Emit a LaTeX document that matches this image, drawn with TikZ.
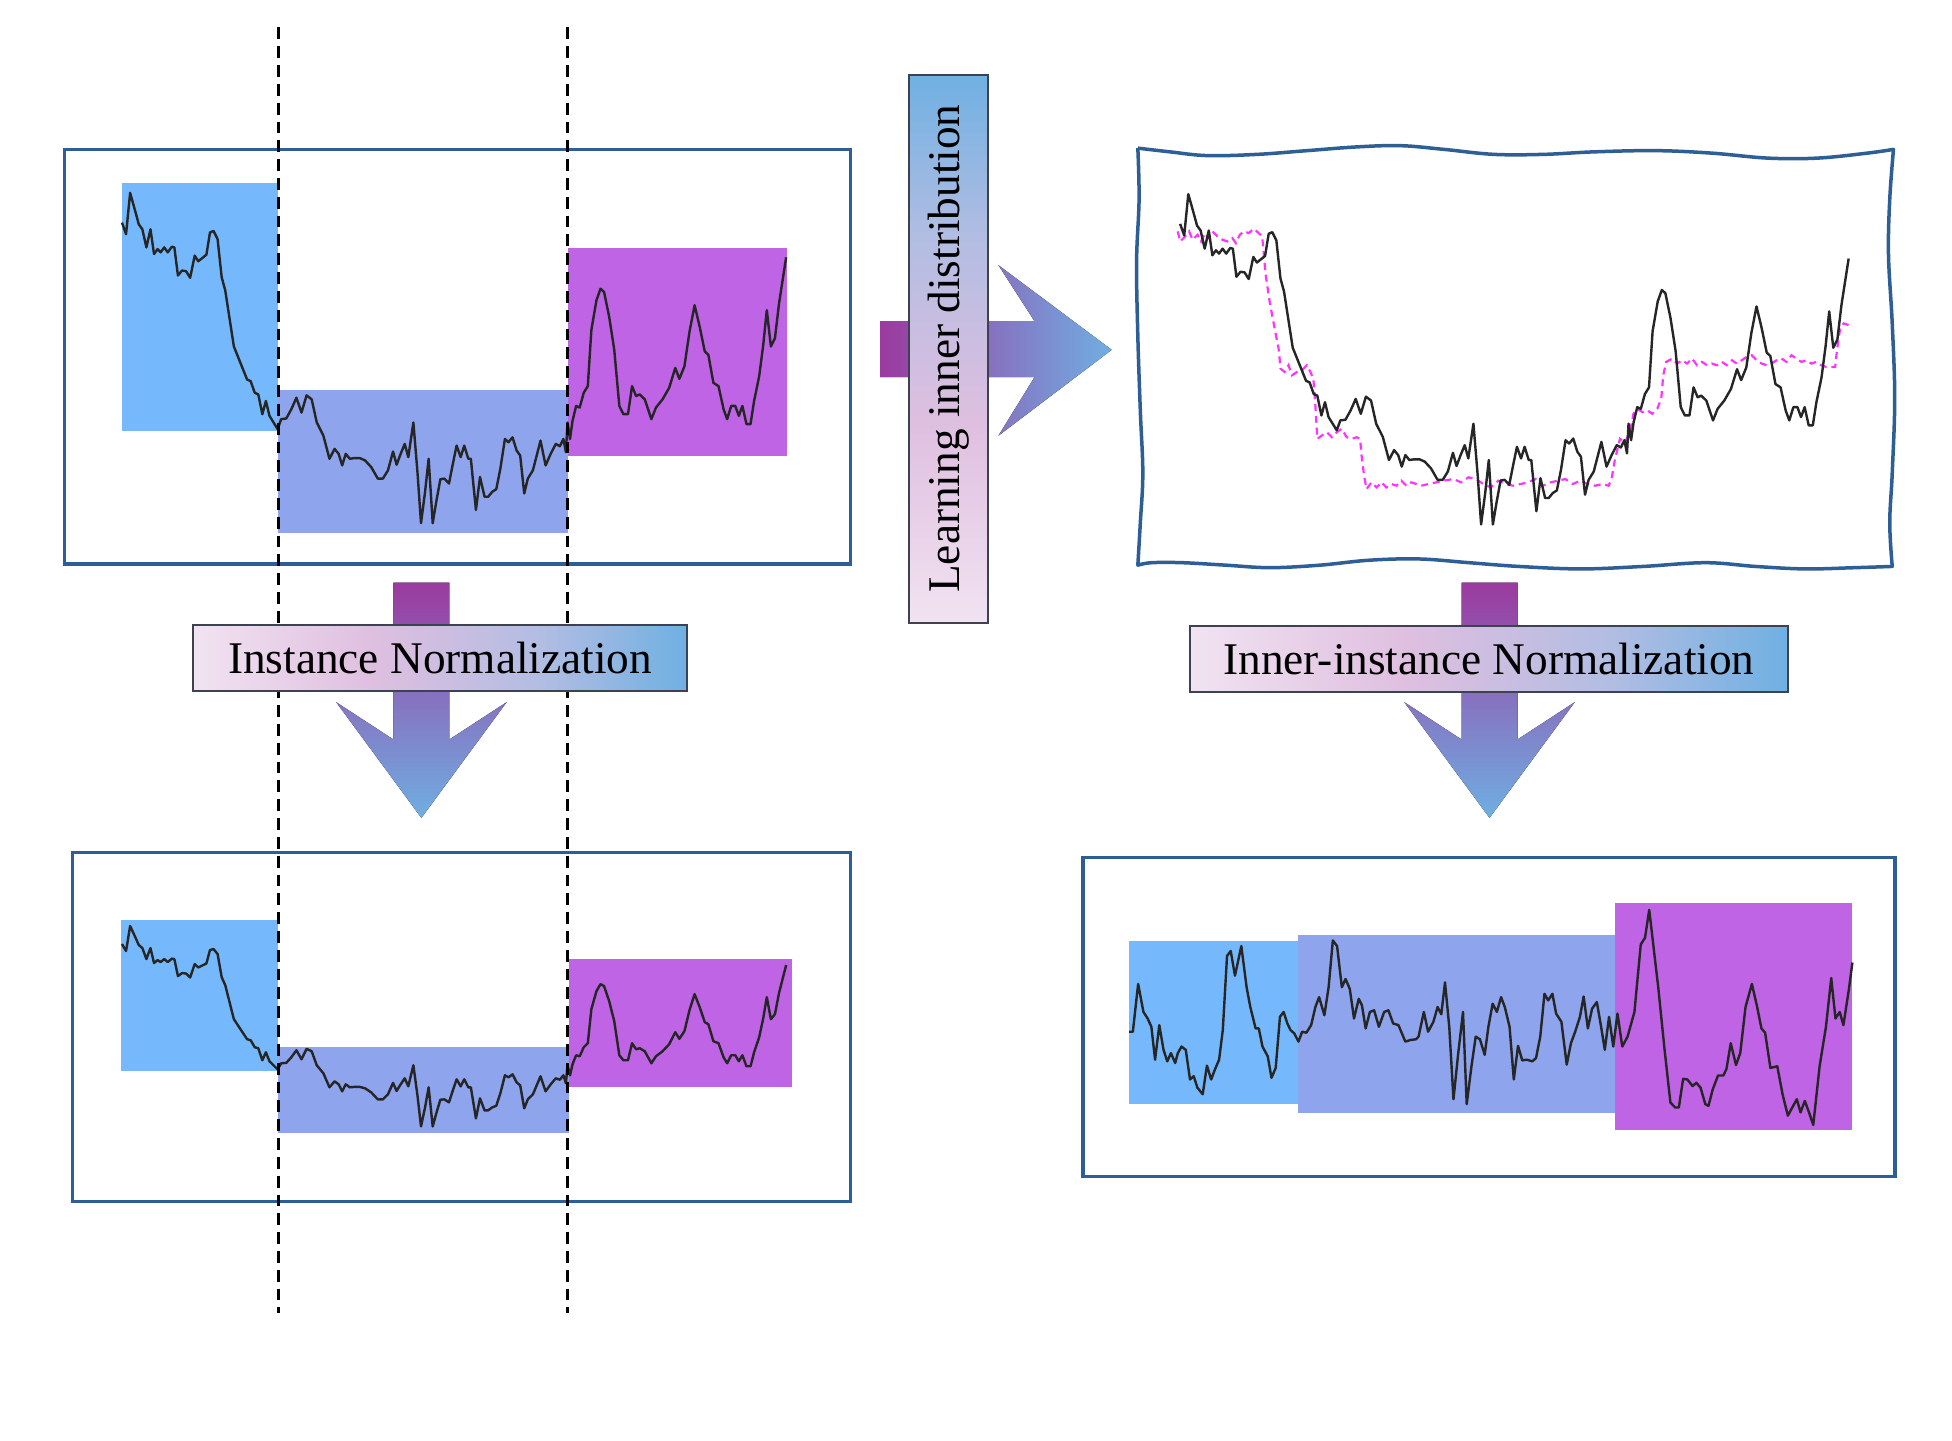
\documentclass[tikz,border=0pt]{standalone}
\usepackage{fontspec}
\setmainfont{Liberation Serif}
\definecolor{frameblue}{HTML}{2E5E96}
\definecolor{segA}{HTML}{75B9FC}
\definecolor{segB}{HTML}{8EA4EC}
\definecolor{segC}{HTML}{BE64E4}
\definecolor{magdash}{HTML}{FF33FF}
\definecolor{arrtop}{HTML}{9B3A9F}
\definecolor{arrbot}{HTML}{70AEE2}
\definecolor{lpink}{HTML}{F1E3F1}
\definecolor{mpink}{HTML}{DFBFE0}
\definecolor{lav}{HTML}{B3BDE2}
\definecolor{lblue}{HTML}{6FB0E2}
\definecolor{labelborder}{HTML}{3C4252}
\pgfdeclarehorizontalshading{labelshade}{100bp}{color(0bp)=(lpink); color(25bp)=(lpink); color(43bp)=(mpink); color(60bp)=(lav); color(75bp)=(lblue); color(100bp)=(lblue)}
\pgfdeclareverticalshading{vlabelshade}{100bp}{color(0bp)=(lpink); color(25bp)=(lpink); color(43bp)=(mpink); color(60bp)=(lav); color(75bp)=(lblue); color(100bp)=(lblue)}
\tikzset{
  frame/.style={draw=frameblue, line width=0.8pt, inner sep=0pt},
  seriesline/.style={draw=black!85, line width=0.55pt, line join=round},
  meanline/.style={draw=magdash, line width=0.5pt, dash pattern=on 1.6pt off 1.1pt},
  splitline/.style={draw=black, line width=0.65pt, dash pattern=on 2.7pt off 1.6pt},
  labelbox/.style={draw=labelborder, line width=0.45pt, shade, shading=labelshade, inner sep=0pt},
  vlabelbox/.style={draw=labelborder, line width=0.45pt, shade, shading=vlabelshade, inner sep=0pt},
  labeltext/.style={font=\fontsize{10.35pt}{12pt}\selectfont, inner sep=0pt},
  downarrow/.style={top color=arrtop, bottom color=arrbot, draw=none},
  rightarrow/.style={left color=arrtop, right color=arrbot, draw=none}
}
\newcommand\tsorig{plot coordinates {(122,245) (130,280) (138,155) (148,210) (155,250) (162,265) (170,320) (178,265) (185,340) (192,325) (198,335) (205,320) (212,335) (220,318) (225,320) (232,405) (240,390) (248,392) (256,412) (265,345) (272,362) (280,352) (288,342) (295,275) (302,270) (310,295) (318,410) (325,450) (333,530) (342,620) (355,670) (368,720) (375,725) (383,760) (390,765) (398,825) (405,785) (412,830) (420,850) (428,870) (435,840) (445,838) (455,810) (465,775) (475,820) (485,768) (495,780) (505,850) (518,890) (530,960) (540,930) (548,945) (555,980) (562,945) (570,960) (578,958) (590,958) (600,965) (612,985) (625,1020) (635,1020) (645,995) (655,938) (662,978) (670,945) (678,915) (685,955) (695,850) (703,1000) (710,1155) (718,1060) (725,960) (733,1155) (740,1090) (748,1022) (756,1020) (765,1035) (772,980) (780,920) (788,955) (795,920) (803,960) (808,960) (818,1115) (826,1015) (835,1075) (842,1075) (850,1060) (858,1052) (866,990) (875,900) (882,910) (890,895) (898,935) (905,950) (913,1065) (920,1020) (930,995) (945,905) (955,980) (965,945) (975,915) (983,922) (990,900) (995,940) (998,850) (1003,900) (1008,845) (1015,800) (1022,805) (1030,760) (1038,740) (1045,570) (1055,480) (1063,445) (1070,455) (1080,530) (1090,630) (1100,800) (1108,825) (1117,825) (1125,740) (1133,770) (1140,765) (1150,780) (1163,840) (1172,805) (1185,780) (1198,745) (1210,685) (1218,718) (1228,680) (1238,575) (1248,495) (1258,560) (1268,635) (1275,645) (1285,730) (1295,740) (1305,810) (1312,840) (1320,800) (1328,800) (1335,830) (1342,800) (1350,855) (1358,855) (1365,785) (1375,710) (1383,615) (1390,510) (1398,620) (1406,595) (1414,490) (1428,350)}}
\newcommand\tsinner{plot coordinates {(93,575) (100,575) (110,430) (120,515) (128,535) (135,560) (142,660) (150,555) (158,630) (165,665) (172,640) (180,670) (185,640) (192,620) (200,630) (208,720) (215,710) (222,745) (232,765) (240,678) (248,720) (255,690) (263,660) (270,570) (278,345) (285,330) (293,405) (305,315) (315,440) (322,500) (332,565) (338,565) (345,620) (355,650) (362,715) (370,685) (378,530) (385,515) (392,550) (398,570) (405,580) (413,605) (420,575) (428,578) (437,555) (445,500) (452,470) (462,525) (470,440) (478,298) (486,315) (495,440) (502,415) (510,445) (518,535) (527,475) (533,495) (540,565) (548,515) (556,510) (565,560) (575,515) (583,510) (592,550) (602,555) (615,605) (625,600) (635,598) (640,590) (650,515) (658,575) (668,545) (676,500) (683,522) (690,425) (698,560) (706,780) (715,640) (724,515) (731,795) (740,680) (748,590) (756,598) (765,645) (772,560) (780,490) (788,515) (796,470) (803,500) (812,560) (820,720) (828,618) (836,662) (845,660) (855,665) (862,655) (870,590) (878,460) (885,480) (893,460) (900,520) (910,545) (920,675) (928,610) (936,575) (945,530) (952,468) (960,565) (968,505) (977,485) (985,560) (992,630) (1000,530) (1008,620) (1016,520) (1025,620) (1035,590) (1048,515) (1060,310) (1068,290) (1076,205) (1085,330) (1093,440) (1105,630) (1116,790) (1125,805) (1132,805) (1140,718) (1148,720) (1158,740) (1165,730) (1173,745) (1182,795) (1188,800) (1196,750) (1206,708) (1216,708) (1222,688) (1230,610) (1240,676) (1248,640) (1258,500) (1270,430) (1280,500) (1288,565) (1295,578) (1305,685) (1318,680) (1328,765) (1338,830) (1348,800) (1355,780) (1362,820) (1370,785) (1378,820) (1386,858) (1398,680) (1410,560) (1420,412) (1428,535) (1436,515) (1443,555) (1453,450) (1460,365)}}
\newcommand\tsmean{plot coordinates {(95,270) (100,300) (110,285) (118,270) (125,295) (135,280) (142,300) (150,275) (158,290) (165,270) (175,285) (185,295) (195,300) (205,290) (212,305) (220,280) (228,270) (238,275) (248,262) (258,275) (265,285) (272,400) (280,480) (290,560) (298,620) (302,680) (310,690) (318,670) (325,700) (335,690) (345,685) (355,670) (362,690) (368,710) (372,790) (376,890) (385,880) (395,870) (405,885) (415,870) (425,860) (435,885) (445,890) (455,885) (462,890) (465,940) (470,1000) (475,1040) (485,1020) (495,1035) (505,1020) (515,1035) (525,1025) (535,1030) (545,1015) (555,1030) (565,1020) (575,1025) (585,1030) (600,1025) (615,1020) (630,1015) (650,1010) (665,1020) (680,1005) (695,1010) (710,1025) (725,1035) (740,1015) (755,1025) (770,1030) (785,1025) (800,1020) (815,1010) (830,1030) (845,1020) (860,1015) (875,1010) (890,1025) (905,1015) (920,1025) (935,1030) (950,1025) (962,1030) (968,1010) (975,950) (985,890) (995,900) (1005,870) (1012,815) (1020,800) (1030,810) (1040,805) (1050,815) (1060,800) (1068,770) (1072,700) (1078,660) (1090,650) (1100,665) (1110,655) (1120,665) (1130,650) (1140,670) (1150,660) (1160,670) (1170,665) (1180,670) (1190,660) (1200,670) (1210,655) (1220,665) (1230,655) (1240,645) (1250,640) (1260,655) (1270,665) (1280,670) (1290,665) (1300,655) (1310,650) (1320,660) (1330,640) (1340,650) (1350,660) (1360,655) (1370,665) (1380,660) (1390,670) (1400,675) (1410,675) (1418,675) (1422,620) (1428,560) (1435,545) (1445,550)}}
\begin{document}
\begin{tikzpicture}[x=0.01cm, y=-0.01cm]
\useasboundingbox (0,0) rectangle (1568,1157);
\fill[white] (0,0) rectangle (1568,1157);

% ---------- top-left panel (original series)
\node[frame, minimum width=6.31cm, minimum height=3.33cm] (tlpanel) at (367.5,286.5) {};
\fill[segA] (98,147) rectangle (223,346);
\fill[segB] (223,313.5) rectangle (456,428.5);
\fill[segC] (456,199.5) rectangle (632,366.5);
\begin{scope}[shift={(48.16,113.84)}]\begin{scope}[xscale=0.4085, yscale=0.2653]
\draw[seriesline] \tsorig;
\end{scope}\end{scope}

% ---------- bottom-left panel (instance normalization)
\node[frame, minimum width=6.245cm, minimum height=2.80cm] (blpanel) at (370.75,825) {};
\fill[segA] (97.5,739) rectangle (223,860);
\fill[segB] (223,841) rectangle (457,910);
\fill[segC] (457,770.5) rectangle (636,873);
\begin{scope}[shift={(48.16,718.87)}]\begin{scope}[xscale=0.4085, yscale=0.161]
\draw[seriesline] \tsorig;
\end{scope}\end{scope}

% ---------- split lines
\coordinate (splitAtop) at (223.5,22);
\coordinate (splitAbot) at (223.5,1055);
\coordinate (splitBtop) at (456,22);
\coordinate (splitBbot) at (456,1055);
\draw[splitline] (splitAtop) -- (splitAbot);
\draw[splitline] (splitBtop) -- (splitBbot);

% ---------- top-right panel (wavy frame)
\draw[draw=frameblue, line width=0.8pt, line join=round]
  plot[smooth, tension=0.6] coordinates {(914,119) (940,122) (970,125) (1010,124) (1050,121) (1090,118) (1125,117) (1160,120) (1200,124) (1240,124) (1280,122) (1330,121) (1375,123) (1420,127) (1460,127) (1500,123) (1521,120)}
  -- plot[smooth, tension=0.6] coordinates {(1521,120) (1518,160) (1517,205) (1520,260) (1522,320) (1520,380) (1518,420) (1520,455)}
  -- plot[smooth, tension=0.6] coordinates {(1520,455) (1490,456) (1450,457) (1410,455) (1370,452) (1320,455) (1270,457) (1220,455) (1180,452) (1140,449) (1100,450) (1060,454) (1020,456) (985,454) (950,452) (925,452) (914,454)}
  -- plot[smooth, tension=0.6] coordinates {(914,454) (916,420) (918,380) (916,330) (914,270) (913,210) (915,160) (914,119)};
\begin{scope}[shift={(908.1,113.3)}]\begin{scope}[xscale=0.3992, yscale=0.2688]
\draw[meanline] \tsmean;
\end{scope}\end{scope}
\begin{scope}[shift={(897.8,114.84)}]\begin{scope}[xscale=0.4112, yscale=0.2653]
\draw[seriesline] \tsorig;
\end{scope}\end{scope}

% ---------- bottom-right panel (inner-instance normalization)
\node[frame, minimum width=6.52cm, minimum height=2.56cm] (brpanel) at (1196,817) {};
\fill[segA] (907,756) rectangle (1043,887);
\fill[segB] (1043,751) rectangle (1297.5,894);
\fill[segC] (1297.5,725.5) rectangle (1488,907.5);
\begin{scope}[shift={(867.5,676.6)}]\begin{scope}[xscale=0.425, yscale=0.2646]
\draw[seriesline] \tsinner;
\end{scope}\end{scope}

% ---------- block arrows
\fill[downarrow] (316,468) -- (361,468) -- (361,594) -- (407,564) -- (338.5,657) -- (270,564) -- (316,594) -- cycle;
\fill[downarrow] (1174,468) -- (1219,468) -- (1219,594) -- (1265,564) -- (1196.5,657) -- (1128,564) -- (1174,594) -- cycle;
\fill[rightarrow] (707,258) -- (831,258) -- (802,213) -- (893,281) -- (802,350) -- (831,303) -- (707,303) -- cycle;

% ---------- labels
\node[labelbox, minimum width=3.97cm, minimum height=0.53cm] (inbox) at (353.5,528.5) {};
\node[labeltext] (intext) at (inbox.center) {Instance Normalization};
\node[labelbox, minimum width=4.80cm, minimum height=0.53cm] (iinbox) at (1196,529.5) {};
\node[labeltext] (iintext) at (iinbox.center) {Inner-instance Normalization};
\node[vlabelbox, minimum width=0.64cm, minimum height=4.40cm] (learnbox) at (762,280) {};
\node[labeltext, rotate=90] (learntext) at (learnbox.center) {Learning inner distribution};
\end{tikzpicture}
\end{document}
